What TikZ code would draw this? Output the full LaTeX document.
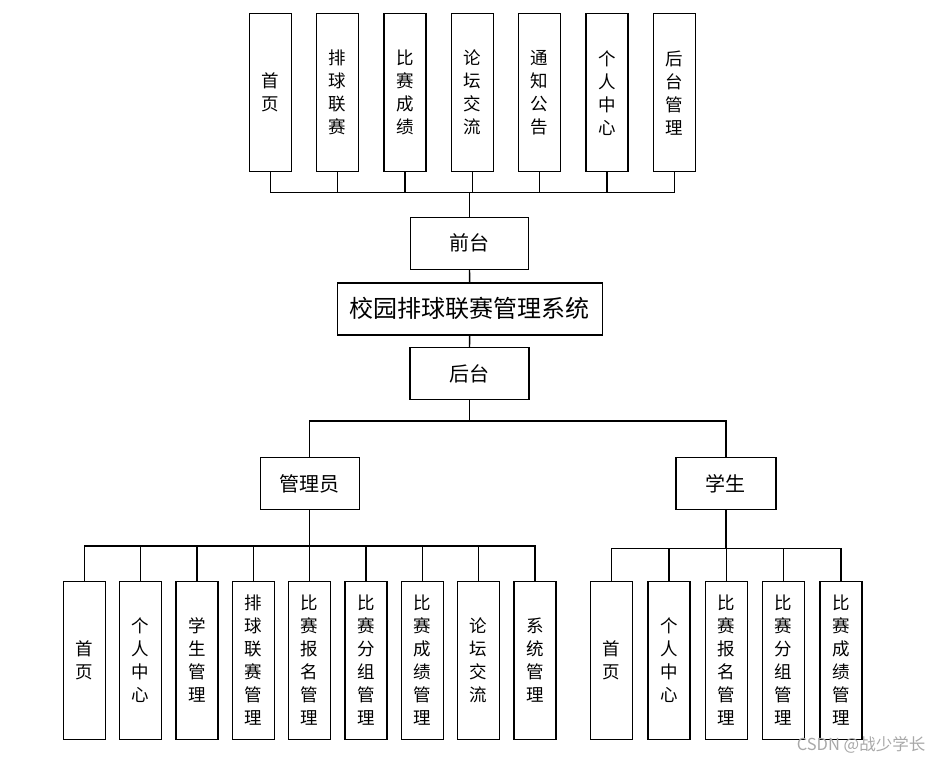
\documentclass[tikz,border=0pt]{standalone}
\usepackage{fontspec}
\newfontfamily\cjk{Noto Sans CJK SC}
\usepackage{xcolor}
\definecolor{markgray}{HTML}{A8A8A8}

\begin{document}
\begin{tikzpicture}[x=1pt, y=-1pt, line width=1.4pt,
    tall/.style={draw, minimum width=42pt, minimum height=158pt, inner sep=0pt,
        align=center, font=\cjk\fontsize{17.5}{23}\selectfont},
    wide/.style={draw, minimum height=52pt, inner sep=0pt,
        font=\cjk\fontsize{20}{24}\selectfont}]
    \useasboundingbox (0,0) rectangle (945,762);

    % Front-end modules
    \node[tall] (f1) at (270.3,92.7) {首\\页};
    \node[tall] (f2) at (337.7,92.7) {排\\球\\联\\赛};
    \node[tall] (f3) at (405.0,92.7) {比\\赛\\成\\绩};
    \node[tall] (f4) at (472.3,92.7) {论\\坛\\交\\流};
    \node[tall] (f5) at (539.7,92.7) {通\\知\\公\\告};
    \node[tall] (f6) at (607.0,92.7) {个\\人\\中\\心};
    \node[tall] (f7) at (674.3,92.7) {后\\台\\管\\理};

    % Centre column
    \node[wide, minimum width=118pt] (front) at (469.5,243.3) {前台};
    \node[wide, minimum width=265pt, font=\cjk\fontsize{24}{27}\selectfont] (sys) at (469.7,308.8) {校园排球联赛管理系统};
    \node[wide, minimum width=119pt] (back) at (469.5,373.7) {后台};

    % Roles
    \node[wide, minimum width=99pt] (admin) at (309.7,483.7) {管理员};
    \node[wide, minimum width=100pt] (stu) at (725.8,483.7) {学生};

    % Admin modules
    \node[tall] (a1) at (84.3,660.3) {首\\页};
    \node[tall] (a2) at (140.7,660.3) {个\\人\\中\\心};
    \node[tall] (a3) at (197.0,660.3) {学\\生\\管\\理};
    \node[tall] (a4) at (253.3,660.3) {排\\球\\联\\赛\\管\\理};
    \node[tall] (a5) at (309.7,660.3) {比\\赛\\报\\名\\管\\理};
    \node[tall] (a6) at (366.0,660.3) {比\\赛\\分\\组\\管\\理};
    \node[tall] (a7) at (422.3,660.3) {比\\赛\\成\\绩\\管\\理};
    \node[tall] (a8) at (478.7,660.3) {论\\坛\\交\\流};
    \node[tall] (a9) at (535.0,660.3) {系\\统\\管\\理};

    % Student modules
    \node[tall] (s1) at (611.5,660.3) {首\\页};
    \node[tall] (s2) at (668.8,660.3) {个\\人\\中\\心};
    \node[tall] (s3) at (726.2,660.3) {比\\赛\\报\\名\\管\\理};
    \node[tall] (s4) at (783.5,660.3) {比\\赛\\分\\组\\管\\理};
    \node[tall] (s5) at (840.8,660.3) {比\\赛\\成\\绩\\管\\理};

    % Bus points
    \coordinate (fbus) at (469.5,192.7);
    \coordinate (bbus) at (469.5,421.0);
    \coordinate (abus) at (309.7,546.0);
    \coordinate (sbus) at (725.8,548.3);

    % Connectors
    \draw (f1.south) |- (fbus) (f2.south) |- (fbus) (f3.south) |- (fbus)
          (f4.south) |- (fbus) (f5.south) |- (fbus) (f6.south) |- (fbus)
          (f7.south) |- (fbus);
    \draw (fbus) -- (front.north);
    \draw (front.south) -- (sys.north);
    \draw (sys.south) -- (back.north);
    \draw (back.south) -- (bbus);
    \draw (admin.north) |- (bbus) (stu.north) |- (bbus);
    \draw (admin.south) -- (abus);
    \draw (a1.north) |- (abus) (a2.north) |- (abus) (a3.north) |- (abus)
          (a4.north) |- (abus) (a5.north) |- (abus) (a6.north) |- (abus)
          (a7.north) |- (abus) (a8.north) |- (abus) (a9.north) |- (abus);
    \draw (stu.south) -- (sbus);
    \draw (s1.north) |- (sbus) (s2.north) |- (sbus) (s3.north) |- (sbus)
          (s4.north) |- (sbus) (s5.north) |- (sbus);

    % Watermark
    \node[text=markgray, font=\cjk\fontsize{16.5}{19}\selectfont, inner sep=0pt] (mark) at (861,745) {CSDN @战少学长};
\end{tikzpicture}
\end{document}
